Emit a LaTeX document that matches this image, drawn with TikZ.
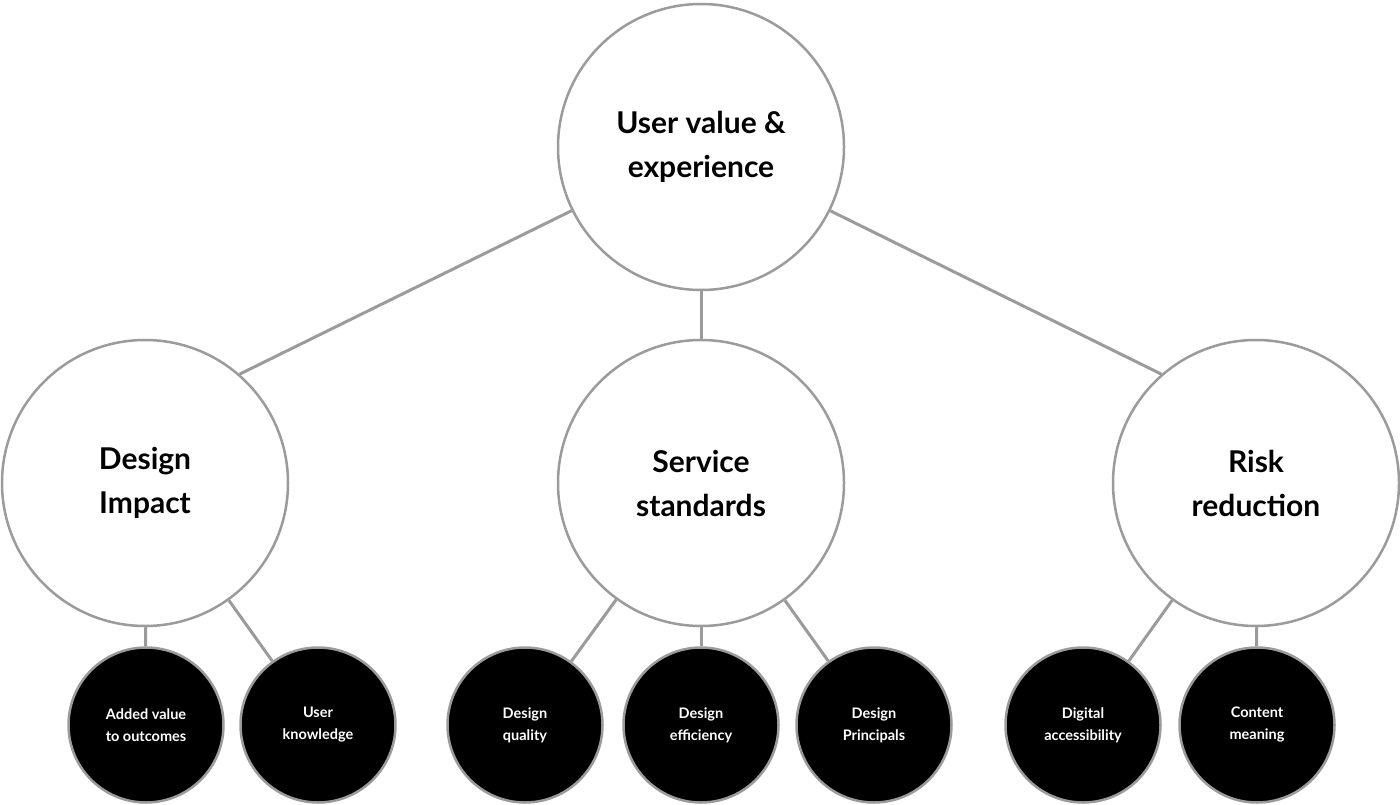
\documentclass[tikz,border=0pt]{standalone}
\usepackage{fontspec}
\setmainfont{Lato}
\definecolor{ringgray}{RGB}{155,155,155}
\tikzset{
  big/.style={circle, draw=ringgray, line width=2.5pt, fill=white, minimum size=286pt, inner sep=0pt, align=center, font=\fontsize{30}{44}\selectfont\bfseries},
  small/.style={circle, draw=ringgray, line width=2.5pt, fill=black, text=white, minimum size=155pt, inner sep=0pt, align=center, font=\fontsize{14.5}{22}\selectfont\bfseries},
  link/.style={draw=ringgray, line width=3pt}
}
\begin{document}
\begin{tikzpicture}[x=1pt,y=-1pt]
  \useasboundingbox (0,0) rectangle (1400,805);
  \node[big] (U) at (701,147) {User value \&\\experience};
  \node[big] (I) at (145,483) {Design\\Impact};
  \node[big] (S) at (701,483) {Service\\standards};
  \node[big] (R) at (1256,483) {Risk\\reduction};

  \node[small] (a1) at (146,725) {Added value\\to outcomes};
  \node[small] (a2) at (318,725) {User\\knowledge};
  \node[small] (b1) at (525,725) {Design\\quality};
  \node[small] (b2) at (701,725) {Design\\efficiency};
  \node[small] (b3) at (874,725) {Design\\Principals};
  \node[small] (c1) at (1083,725) {Digital\\accessibility};
  \node[small] (c2) at (1257,725) {Content\\meaning};

  \draw[link] (U) -- (I.49);
  \draw[link] (U) -- (S);
  \draw[link] (U) -- (R.131);
  \draw[link] (I) -- (a1);
  \draw[link] (I) -- (a2);
  \draw[link] (S) -- (b1);
  \draw[link] (S) -- (b2);
  \draw[link] (S) -- (b3);
  \draw[link] (R) -- (c1);
  \draw[link] (R) -- (c2);
\end{tikzpicture}
\end{document}
